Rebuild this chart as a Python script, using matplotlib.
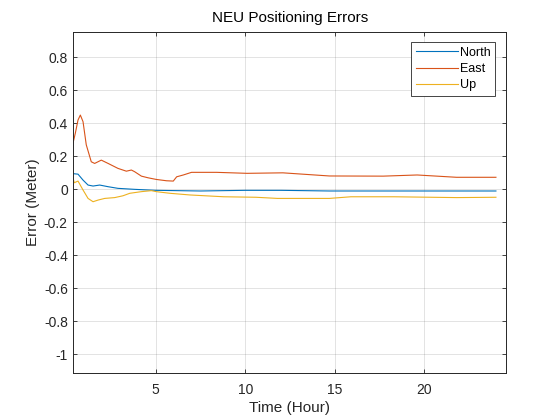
import numpy as np
import matplotlib
matplotlib.use("Agg")
import matplotlib.pyplot as plt

plt.rcParams['font.family'] = ['Liberation Sans', 'DejaVu Sans']

# values (time in hours, error in metres)
t_east = [0.38, 0.51, 0.66, 0.79, 0.94, 1.12, 1.40, 1.59, 1.96, 2.34, 2.89, 3.36,
          3.64, 3.82, 4.20, 4.57, 5.03, 5.60, 5.98, 6.17, 6.54, 7.00, 8.40, 10.1,
          12.1, 14.7, 17.7, 19.6, 21.8, 24.0]
east = [0.28, 0.34, 0.42, 0.45, 0.41, 0.27, 0.167, 0.157, 0.177, 0.157, 0.127, 0.11,
        0.117, 0.107, 0.08, 0.07, 0.06, 0.052, 0.05, 0.076, 0.087, 0.103, 0.103, 0.097,
        0.10, 0.081, 0.08, 0.087, 0.073, 0.073]

t_north = [0.38, 0.66, 0.94, 1.22, 1.50, 1.87, 2.34, 2.89, 3.82, 5.0, 7.5, 10.0,
           12.0, 14.7, 18.0, 21.0, 24.0]
north = [0.095, 0.092, 0.056, 0.026, 0.02, 0.026, 0.016, 0.006, 0.0, -0.006, -0.01, -0.006,
         -0.006, -0.01, -0.01, -0.01, -0.01]

t_up = [0.38, 0.45, 0.66, 0.94, 1.22, 1.50, 1.78, 2.15, 2.71, 3.17, 3.55, 4.20,
        4.76, 5.03, 5.80, 6.90, 8.80, 10.6, 11.8, 14.7, 15.9, 18.3, 21.8, 24.0]
up = [0.07, 0.04, 0.05, -0.004, -0.055, -0.075, -0.065, -0.055, -0.05, -0.039, -0.024, -0.014,
      -0.008, -0.014, -0.024, -0.034, -0.045, -0.048, -0.055, -0.055, -0.045, -0.045, -0.05, -0.048]

yticks = [-1, -0.8, -0.6, -0.4, -0.2, 0, 0.2, 0.4, 0.6, 0.8]
ytick_labels = ['-1', '-0.8', '-0.6', '-0.4', '-0.2', '0', '0.2', '0.4', '0.6', '0.8']
xticks = [5, 10, 15, 20]

fig = plt.figure(figsize=(5.6, 4.2), dpi=100)
ax = fig.add_axes([0.131, 0.111, 0.7725, 0.8135])

dark = (0.15, 0.15, 0.15)
ax.plot(t_north, north, color='#0072BD', lw=0.8, label='North')
ax.plot(t_east, east, color='#D95319', lw=0.8, label='East')
ax.plot(t_up, up, color='#EDB120', lw=0.8, label='Up')

ax.set_xlim(0.4, 24.56)
ax.set_ylim(-1.115, 0.955)
ax.set_xticks(xticks)
ax.set_yticks(yticks)
ax.set_yticklabels(ytick_labels)
ax.grid(True, color=(0.15, 0.15, 0.15), alpha=0.15, lw=0.6)
ax.tick_params(direction='in', length=3, width=0.6, colors=dark, labelsize=10,
               top=True, right=True)
ax.tick_params(axis='y', pad=4)
ax.tick_params(axis='x', pad=7)
for s in ax.spines.values():
    s.set_color(dark)
    s.set_linewidth(0.7)

ax.set_title('NEU Positioning Errors', fontsize=11, color='black', pad=7)
ax.set_xlabel('Time (Hour)', fontsize=11, color=dark, labelpad=3)
ax.set_ylabel('Error (Meter)', fontsize=11, color=dark, labelpad=3)

leg = ax.legend(loc='upper right', fontsize=9, fancybox=False, edgecolor=dark,
                framealpha=1, handlelength=3.4, handletextpad=0.15,
                borderaxespad=0.85, borderpad=0.35, labelspacing=0.35)
leg.get_frame().set_linewidth(0.6)

fig.savefig('out.png', dpi=100)
